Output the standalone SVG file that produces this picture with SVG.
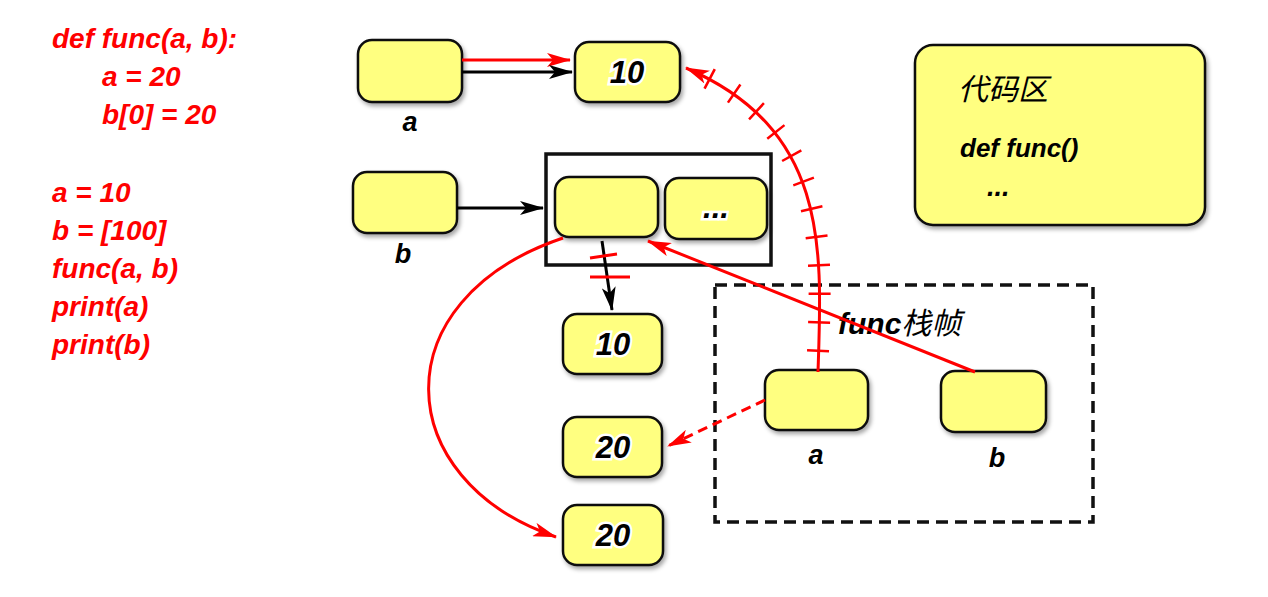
<svg xmlns="http://www.w3.org/2000/svg" width="1268" height="597" viewBox="0 0 1268 597">
<defs>
<filter id="sh" x="-20%" y="-20%" width="150%" height="150%"><feDropShadow dx="2" dy="3" stdDeviation="2" flood-opacity="0.35"/></filter>
<marker id="ar" viewBox="0 0 24 14" refX="23" refY="7" markerWidth="24" markerHeight="14" markerUnits="userSpaceOnUse" orient="auto"><path d="M0,0 L24,7 L0,14 L6,7 Z" fill="#f00"/></marker>
<marker id="ab" viewBox="0 0 24 14" refX="23" refY="7" markerWidth="24" markerHeight="14" markerUnits="userSpaceOnUse" orient="auto"><path d="M0,0 L24,7 L0,14 L6,7 Z" fill="#000"/></marker>
<style>
.n{fill:#ffff80;stroke:#111;stroke-width:2.5;filter:url(#sh)}
.v{font-family:"Liberation Sans",sans-serif;font-weight:bold;font-style:italic;font-size:31px;fill:#000;stroke:#fff;stroke-width:5;paint-order:stroke;text-anchor:middle}
.l{font-family:"Liberation Sans",sans-serif;font-weight:bold;font-style:italic;font-size:27px;fill:#000;text-anchor:middle}
.c{font-family:"Liberation Sans",sans-serif;font-weight:bold;font-style:italic;font-size:28px;fill:#f00}
.k{font-family:"Liberation Sans","Noto Sans CJK SC",sans-serif;font-style:italic;font-size:30px;fill:#000}
.r{fill:none;stroke:#f00;stroke-width:3}
.b{fill:none;stroke:#000;stroke-width:3}
</style>
</defs>
<g id="code">
<text class="c" x="52" y="48">def func(a, b):</text>
<text class="c" x="102" y="86">a = 20</text>
<text class="c" x="102" y="124">b[0] = 20</text>
<text class="c" x="52" y="202">a = 10</text>
<text class="c" x="52" y="240">b = [100]</text>
<text class="c" x="52" y="278">func(a, b)</text>
<text class="c" x="52" y="316">print(a)</text>
<text class="c" x="52" y="354">print(b)</text>
</g>
<g id="frames">
<rect x="546" y="154" width="225" height="111" fill="none" stroke="#111" stroke-width="3.5"/>
<rect x="715" y="285" width="378" height="237" fill="none" stroke="#111" stroke-width="3.5" stroke-dasharray="12 7"/>
<text class="k" x="838" y="334" font-weight="bold">func<tspan font-weight="normal">栈帧</tspan></text>
</g>
<g id="varA"><rect class="n" x="358" y="40" width="104" height="62" rx="14"/><text class="l" x="410" y="131">a</text></g>
<g id="val10a"><rect class="n" x="575" y="42" width="105" height="60" rx="14"/><text class="v" x="627" y="83">10</text></g>
<g id="varB"><rect class="n" x="353" y="172" width="104" height="61" rx="14"/><text class="l" x="403" y="263">b</text></g>
<g id="list0"><rect class="n" x="555" y="177" width="103" height="60" rx="14"/></g>
<g id="list1"><rect class="n" x="665" y="178" width="102" height="61" rx="14"/><text class="v" x="716" y="218">...</text></g>
<g id="val10b"><rect class="n" x="563" y="314" width="99" height="60" rx="14"/><text class="v" x="613" y="355">10</text></g>
<g id="val20a"><rect class="n" x="563" y="417" width="99" height="60" rx="14"/><text class="v" x="613" y="458">20</text></g>
<g id="val20b"><rect class="n" x="563" y="505" width="100" height="60" rx="14"/><text class="v" x="613" y="546">20</text></g>
<g id="fa"><rect class="n" x="765" y="370" width="103" height="60" rx="14"/><text class="l" x="816" y="464">a</text></g>
<g id="fb"><rect class="n" x="941" y="371" width="105" height="61" rx="14"/><text class="l" x="997" y="467">b</text></g>
<g id="codeArea"><rect class="n" x="915" y="45" width="290" height="180" rx="18"/>
<text class="k" x="958" y="100">代码区</text>
<text class="l" x="960" y="157" style="text-anchor:start;font-size:26px">def func()</text>
<text class="l" x="987" y="196" style="text-anchor:start">...</text></g>
<g id="connectors">
<line class="r" x1="462" y1="60" x2="570" y2="60" marker-end="url(#ar)"/>
<line class="b" x1="462" y1="72" x2="572" y2="72" marker-end="url(#ab)"/>
<line class="b" x1="457" y1="208" x2="543" y2="208" marker-end="url(#ab)"/>
<path class="r" d="M818,372 C822,250 830,130 686,68" marker-end="url(#ar)"/>
<path d="M818,352 C822,250 828,140 708,78" fill="none" stroke="#f00" stroke-width="22" stroke-dasharray="2.5 26"/>
<line class="b" x1="602" y1="241" x2="612" y2="310" marker-end="url(#ab)"/>
<line x1="590" y1="258" x2="617" y2="254" stroke="#f00" stroke-width="3"/>
<line x1="590" y1="277" x2="630" y2="277" stroke="#f00" stroke-width="3"/>
<line class="r" x1="975" y1="372" x2="648" y2="241" marker-end="url(#ar)"/>
<path class="r" d="M563,238 C380,300 390,480 556,537" marker-end="url(#ar)"/>
<line class="r" x1="765" y1="400" x2="668" y2="446" stroke-dasharray="10 6" marker-end="url(#ar)"/>
</g>
</svg>
